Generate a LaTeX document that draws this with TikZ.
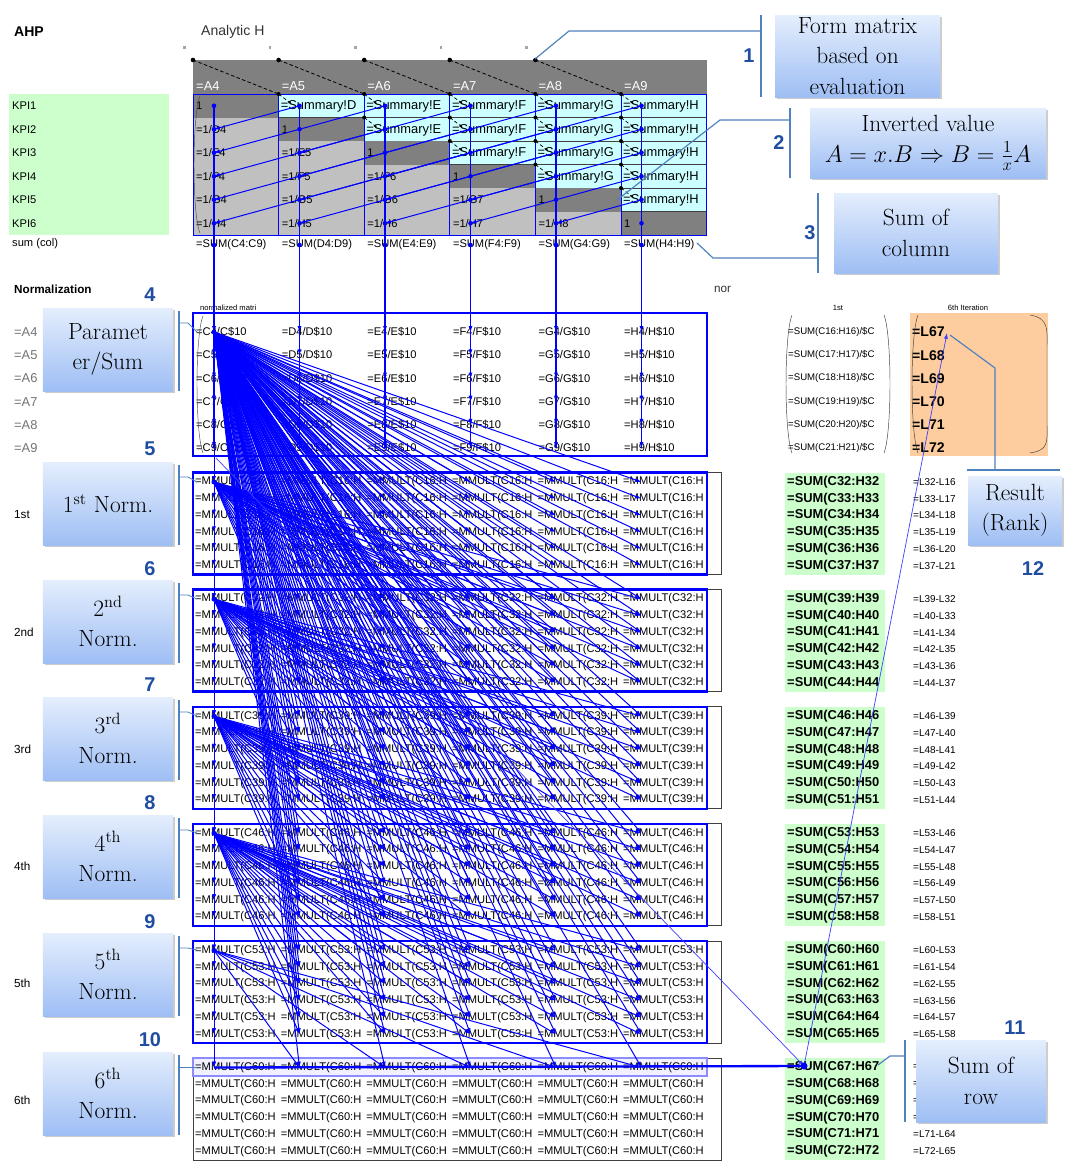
\documentclass[tikz,border=0pt]{standalone}
\usepackage{fontspec}
\usepackage{amsmath}
\usetikzlibrary{arrows.meta,shadows}
\newfontfamily\xl{Liberation Sans}
\definecolor{trace}{RGB}{0,0,255}
\definecolor{callline}{RGB}{79,129,189}
\definecolor{calltop}{RGB}{228,238,253}
\definecolor{callbot}{RGB}{158,190,244}
\definecolor{numblue}{RGB}{31,78,160}
\definecolor{kpigreen}{RGB}{204,255,204}
\definecolor{cyancell}{RGB}{204,255,255}
\definecolor{darkcell}{RGB}{128,128,128}
\definecolor{lightcell}{RGB}{192,192,192}
\definecolor{peach}{RGB}{253,205,160}
\newcommand\colname[1]{\ifcase#1 C\or D\or E\or F\or G\or H\fi}

\begin{document}
\begin{tikzpicture}[x=0.03cm,y=-0.03cm,
  cell/.style={anchor=west,inner sep=0pt,font=\xl\fontsize{9.5}{10}\selectfont},
  bigcell/.style={anchor=west,inner sep=0pt,font=\xl\fontsize{11}{12}\selectfont},
  sumcell/.style={anchor=west,inner sep=0pt,font=\xl\bfseries\fontsize{11}{12}\selectfont},
  callout/.style={top color=calltop,bottom color=callbot,drop shadow={opacity=0.4,shadow xshift=1.5pt,shadow yshift=-1.5pt},
    align=center,inner sep=0pt,font=\fontsize{20}{26}\selectfont},
  number/.style={font=\xl\bfseries\fontsize{17}{17}\selectfont,text=numblue},
  pointer/.style={draw=callline,line width=1pt},
  tracer/.style={draw=trace,line width=0.85pt,-{Latex[length=5pt,width=3.5pt]}},
]
\fill[white] (0,0) rectangle (1073,1169);
\useasboundingbox (0,0) rectangle (1073,1169);

% titles
\node[anchor=west,font=\xl\bfseries\fontsize{12}{13}\selectfont] (ahp) at (10,32) {AHP};
\node[anchor=west,font=\xl\fontsize{12}{13}\selectfont,text=black!80] (title) at (197,32) {Analytic H};
\node[anchor=west,font=\xl\bfseries\fontsize{10}{11}\selectfont] (normtitle) at (10,289) {Normalization};
\node[anchor=west,font=\xl\fontsize{10}{11}\selectfont,text=black!80] (nor) at (710,289) {nor};

% first matrix
\fill[darkcell] (193,60) rectangle (707,94);
\foreach \j/\t in {0/A4,1/A5,2/A6,3/A7,4/A8,5/A9}
  \node[bigcell,text=white] (h\j) at (196+85.6*\j,86) {=\t};
\fill[kpigreen] (9,94) rectangle (169,235);
\foreach \i in {1,...,6}
  \node[cell] (kpi\i) at (12,82.25+23.5*\i) {KPI\i};
\node[cell] (sumcol) at (12,244) {sum (col)};
\foreach \i in {0,...,5}
  \foreach \j in {0,...,5}{
    \coordinate (k\i-\j) at (193+85.6*\j,94+23.5*\i);
    \ifnum\i=\j
      \fill[darkcell] (k\i-\j) rectangle ++(85.6,23.5);
      \node[cell] (m\i-\j) at (196+85.6*\j,105.75+23.5*\i) {1};
    \else\ifnum\i>\j
      \fill[lightcell] (k\i-\j) rectangle ++(85.6,23.5);
      \node[cell] (m\i-\j) at (196+85.6*\j,105.75+23.5*\i) {=1/\colname{\i}\the\numexpr\j+4\relax};
    \else
      \filldraw[fill=cyancell,draw=black!75,line width=0.6pt] (k\i-\j) rectangle ++(85.6,23.5);
      \node[bigcell] (m\i-\j) at (195+85.6*\j,106.5+23.5*\i) {=Summary!\colname{\j}};
    \fi\fi
  }
\foreach \j in {0,...,5}{
  \draw[trace,line width=0.7pt] (193+85.6*\j,94) rectangle ++(85.6,141);
  \node[cell] (s\j) at (196+85.6*\j,245) {=SUM(\colname{\j}4:\colname{\j}9)};
}
\draw[black!70] (200,96) .. controls (192,115) and (192,215) .. (200,233);

% black tracers from the summary sheet
\foreach \j [count=\jn from 1] in {0,...,4}{
  \fill[black!35] (183+85.6*\j,46) rectangle ++(2.5,2.5);
  \coordinate (d\j) at (193+85.6*\j,60);
  \fill (d\j) circle (2.3);
  \draw[densely dashed,line width=0.7pt] (d\j) -- (k0-\jn);
}
\foreach \i in {0,...,4}
  \foreach \j in {1,...,5}{
    \ifnum\i<\j
      \coordinate (ka\i-\j) at (206+85.6*\j,104+23.5*\i);
      \fill (k\i-\j) circle (2);
      \draw[densely dashed,line width=0.6pt,-{Latex[length=3pt,width=2.5pt]}] (k\i-\j) -- (ka\i-\j);
    \fi
  }

% normalized matrix
\node[anchor=west,font=\xl\fontsize{6.5}{7}\selectfont] (nmlabel) at (196,308) {normalized matri};
\foreach \i in {0,...,5}{
  \node[anchor=west,font=\xl\fontsize{11}{12}\selectfont,text=black!55] (a\i) at (10,332+23.2*\i) {=A\the\numexpr\i+4\relax};
  \foreach \j in {0,...,5}{
    \node[cell] (nc\i-\j) at (196+85.6*\j,332+23.2*\i) {=\colname{\j}\the\numexpr\i+4\relax/\colname{\j}\$10};
    \coordinate (n\i-\j) at (214+85.5*\j,332+23.2*\i);
  }
}
\draw[trace,line width=2pt] (193,313) rectangle (707,456);
\draw[black!70] (203,316) .. controls (195,335) and (195,433) .. (203,453);

% first result and 6th iteration
\node[anchor=center,font=\xl\fontsize{6.5}{7}\selectfont] (firsthead) at (838,308) {1st};
\node[anchor=center,font=\xl\fontsize{6.5}{7}\selectfont] (sixhead) at (968,308) {6th Iteration};
\fill[peach] (910,313) rectangle (1048,456);
\foreach \i in {0,...,5}{
  \node[cell,font=\xl\fontsize{8.2}{9}\selectfont] (v1\i) at (788,332+23.2*\i) {=SUM(C\the\numexpr\i+16\relax:H\the\numexpr\i+16\relax)/\$C};
  \node[sumcell,font=\xl\bfseries\fontsize{12}{13}\selectfont] (r\i) at (912,332+23.2*\i) {=L\the\numexpr\i+67\relax};
}
\draw[black!75] (792,315) .. controls (784,335) and (784,433) .. (792,453);
\draw[black!75] (884,315) .. controls (892,335) and (892,433) .. (884,453);
\draw[black!75] (918,315) .. controls (910,335) and (910,433) .. (918,453);
\draw[black!75] (1030,315) .. controls (1049,318) and (1047,330) .. (1047,345) -- (1047,425)
  .. controls (1047,442) and (1049,450) .. (1030,453);

% iterations
\foreach \k/\src/\sr/\pr/\ord in {1/C16/32/16/1st,2/C32/39/32/2nd,3/C39/46/39/3rd,4/C46/53/46/4th,5/C53/60/53/5th,6/C60/67/60/6th}{
  \pgfmathsetmacro\yk{482+117.1*(\k-1)}
  \fill[kpigreen] (785,\yk-9.5) rectangle (885,\yk+92.5);
  \foreach \i in {0,...,5}{
    \pgfmathtruncatemacro\r{\sr+\i}
    \pgfmathtruncatemacro\q{\pr+\i}
    \pgfmathtruncatemacro\hid{(\k==6)&&(\i<4)}
    \foreach \j in {0,...,5}{
      \node[cell] (c\k-\i-\j) at (195+85.6*\j,\yk+16.75*\i) {=MMULT(\src:H};
      \coordinate (p\k-\i-\j) at (214+85.5*\j,\yk+16.75*\i);
    }
    \node[sumcell] (g\k-\i) at (787,\yk+16.75*\i) {=SUM(C\r:H\r};
    \ifnum\hid=1
      \node[cell,font=\xl\fontsize{8.5}{9}\selectfont] (l\k-\i) at (913,\yk+16.75*\i) {=};
    \else
      \node[cell,font=\xl\fontsize{8.5}{9}\selectfont] (l\k-\i) at (913,\yk+16.75*\i) {=L\r-L\q};
    \fi
  }
  \draw[black!75,line width=0.7pt] (193,\yk-9.5) rectangle (721,\yk+92.5);
  \ifnum\k<6 \draw[trace,line width=2pt] (193,\yk-9.5) rectangle (707,\yk+92.5); \fi
  \node[anchor=west,font=\xl\fontsize{10}{11}\selectfont] (side\k) at (10,\yk+33) {\ord};
}
\draw[trace!45,line width=1.2pt,fill=trace!6] (193,1058) rectangle (707,1076);
\foreach \j in {0,...,5}
  \node[cell] (cc\j) at (195+85.6*\j,1067.5) {=MMULT(C60:H};

% blue tracers
\foreach \i in {0,...,5}
  \foreach \j in {0,...,5}
    \coordinate (v\i-\j) at (214+85.5*\j,105.75+23.5*\i);
\foreach \j in {0,...,5}{
  \coordinate (vs\j) at (214+85.5*\j,245);
  \draw[trace,line width=1.5pt] (v0-\j) -- (n5-\j);
  \foreach \i in {0,...,5}{
    \fill[trace] (v\i-\j) circle (2.3);
    \draw[tracer] (vs\j) -- (n\i-\j);
  }
  \fill[trace] (vs\j) circle (2.3);
}
\foreach \i in {0,...,4}
  \foreach \j in {1,...,5}{
    \ifnum\i<\j \draw[tracer] (v\i-\j) -- (v\j-\i); \fi
  }
\fill[trace] (n0-0) circle (2.5);
\foreach \k in {1,...,5}
  \foreach \i in {0,...,5}
    \foreach \j in {0,...,5}
      \draw[tracer] (n0-0) -- (p\k-\i-\j);
\foreach \j in {0,...,5}
  \draw[tracer] (n0-0) -- (p6-0-\j);
\foreach \k [count=\kn from 2] in {1,...,4}{
  \fill[trace] (p\k-0-0) circle (2.5);
  \foreach \i in {0,...,5}
    \foreach \j in {0,...,5}
      \draw[tracer] (p\k-0-0) -- (p\kn-\i-\j);
}
\fill[trace] (p5-0-0) circle (2.5);
\foreach \j in {0,...,5}
  \draw[tracer] (p5-0-0) -- (p6-0-\j);
\coordinate (sum67) at (804,1066);
\coordinate (res67) at (947,333);
\coordinate (low) at (216,458);
\draw[tracer,line width=2pt] (p6-0-0) -- (sum67);
\draw[tracer,line width=0.6pt,draw=trace!75] (low) -- (sum67);
\draw[tracer,line width=0.6pt,draw=trace!75] (sum67) -- (res67);
\fill[trace] (sum67) circle (3.5);

% callouts on the left
\node[callout,minimum width=3.9cm,minimum height=2.49cm] (parbox) at (108,349.5) {Paramet\\er/Sum};
\foreach \k/\top/\txt in {1/462/{1\textsuperscript{st} Norm.},2/580/{2\textsuperscript{nd}\\Norm.},3/697/{3\textsuperscript{rd}\\Norm.},
  4/815/{4\textsuperscript{th}\\Norm.},5/933/{5\textsuperscript{th}\\Norm.},6/1052/{6\textsuperscript{th}\\Norm.}}
  \node[callout,minimum width=3.9cm,minimum height=2.49cm] (normbox\k) at (108,\top+41.5) {\txt};
\foreach \top/\tip in {308/332,462/482,580/599,697/716,815/833,933/950,1052/1067}{
  \draw[pointer] (179,\top+3) -- (179,\top+83);
  \draw[pointer,line width=0.7pt] (179,\top+15) -- (188,\top+15) -- (197,\tip);
}
\foreach \n/\y in {4/295,5/449,6/569,7/685,8/803,9/922,10/1040}
  \node[number] (no\n) at (150,\y) {\n};

% callouts on the right
\node[callout,minimum width=4.95cm,minimum height=2.46cm] (formbox) at (857.5,56) {Form matrix\\based on\\evaluation};
\draw[pointer] (761,15) -- (761,97);
\draw[pointer] (761,31) -- (569,31) -- (535,59);
\node[number] (no1) at (749,56) {1};
\node[callout,minimum width=7.08cm,minimum height=2.1cm] (invbox) at (928,143) {Inverted value\\$A = x.B \Rightarrow B = \frac{1}{x}A$};
\draw[pointer] (790,108) -- (790,178);
\draw[pointer] (790,120) -- (720,120) -- (617,200);
\node[number] (no2) at (779,143) {2};
\node[callout,minimum width=4.92cm,minimum height=2.4cm] (colbox) at (916,233) {Sum of\\column};
\draw[pointer] (818,193) -- (818,273);
\draw[pointer] (818,258) -- (713,258) -- (697,243);
\node[number] (no3) at (810,233) {3};
\node[callout,minimum width=2.82cm,minimum height=2.07cm] (rankbox) at (1015,510.5) {Result\\(Rank)};
\draw[pointer] (967,470) -- (1060,470);
\draw[pointer] (995,470) -- (995,368) -- (950,335);
\node[number] (no12) at (1033,569) {12};
\node[callout,minimum width=3.9cm,minimum height=2.46cm] (rowbox) at (981,1081) {Sum of\\row};
\draw[pointer] (905,1040) -- (905,1122);
\draw[pointer] (905,1056) -- (890,1056) -- (878,1065);
\node[number] (no11) at (1015,1028) {11};
\end{tikzpicture}
\end{document}
